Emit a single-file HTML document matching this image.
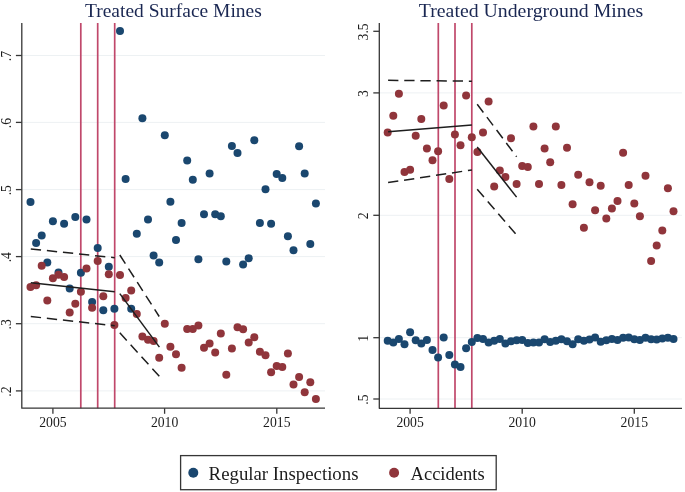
<!DOCTYPE html>
<html><head><meta charset="utf-8"><title>Treated Mines</title>
<style>
html,body{margin:0;padding:0;background:#fff;}
body{width:685px;height:492px;overflow:hidden;}
svg{display:block;}
text{font-family:"Liberation Serif","Times New Roman",serif;}
.tk{font-size:13.7px;fill:#1c1c1c;}
.ti{font-size:18.2px;fill:#1a2752;}
.lg{font-size:18.4px;fill:#1c1c1c;}
</style></head>
<body>
<svg width="685" height="492" viewBox="0 0 685 492">
<rect width="685" height="492" fill="#fff"/>
<line x1="21.8" y1="55.5" x2="325.0" y2="55.5" stroke="#edf1f3" stroke-width="1"/>
<line x1="21.8" y1="122.4" x2="325.0" y2="122.4" stroke="#edf1f3" stroke-width="1"/>
<line x1="21.8" y1="189.6" x2="325.0" y2="189.6" stroke="#edf1f3" stroke-width="1"/>
<line x1="21.8" y1="256.6" x2="325.0" y2="256.6" stroke="#edf1f3" stroke-width="1"/>
<line x1="21.8" y1="323.7" x2="325.0" y2="323.7" stroke="#edf1f3" stroke-width="1"/>
<line x1="21.8" y1="390.9" x2="325.0" y2="390.9" stroke="#edf1f3" stroke-width="1"/>
<line x1="80.8" y1="23.0" x2="80.8" y2="408.2" stroke="#c0486b" stroke-width="1.7"/>
<line x1="97.7" y1="23.0" x2="97.7" y2="408.2" stroke="#c0486b" stroke-width="1.7"/>
<line x1="114.7" y1="23.0" x2="114.7" y2="408.2" stroke="#c0486b" stroke-width="1.7"/>
<circle cx="30.5" cy="202.0" r="4.0" fill="#1a476f"/>
<circle cx="36.1" cy="243.0" r="4.0" fill="#1a476f"/>
<circle cx="41.7" cy="235.5" r="4.0" fill="#1a476f"/>
<circle cx="47.3" cy="262.5" r="4.0" fill="#1a476f"/>
<circle cx="52.9" cy="221.2" r="4.0" fill="#1a476f"/>
<circle cx="58.5" cy="272.6" r="4.0" fill="#1a476f"/>
<circle cx="64.1" cy="223.8" r="4.0" fill="#1a476f"/>
<circle cx="69.7" cy="288.6" r="4.0" fill="#1a476f"/>
<circle cx="75.3" cy="217.1" r="4.0" fill="#1a476f"/>
<circle cx="80.9" cy="272.8" r="4.0" fill="#1a476f"/>
<circle cx="86.5" cy="219.6" r="4.0" fill="#1a476f"/>
<circle cx="92.1" cy="302.0" r="4.0" fill="#1a476f"/>
<circle cx="97.7" cy="248.1" r="4.0" fill="#1a476f"/>
<circle cx="103.3" cy="310.2" r="4.0" fill="#1a476f"/>
<circle cx="108.8" cy="266.8" r="4.0" fill="#1a476f"/>
<circle cx="114.4" cy="308.8" r="4.0" fill="#1a476f"/>
<circle cx="120.0" cy="31.1" r="4.0" fill="#1a476f"/>
<circle cx="125.6" cy="179.0" r="4.0" fill="#1a476f"/>
<circle cx="131.2" cy="308.8" r="4.0" fill="#1a476f"/>
<circle cx="136.8" cy="233.8" r="4.0" fill="#1a476f"/>
<circle cx="142.4" cy="118.3" r="4.0" fill="#1a476f"/>
<circle cx="148.0" cy="219.5" r="4.0" fill="#1a476f"/>
<circle cx="153.6" cy="255.6" r="4.0" fill="#1a476f"/>
<circle cx="159.2" cy="262.5" r="4.0" fill="#1a476f"/>
<circle cx="164.8" cy="135.2" r="4.0" fill="#1a476f"/>
<circle cx="170.4" cy="201.7" r="4.0" fill="#1a476f"/>
<circle cx="176.0" cy="240.0" r="4.0" fill="#1a476f"/>
<circle cx="181.6" cy="222.9" r="4.0" fill="#1a476f"/>
<circle cx="187.2" cy="160.6" r="4.0" fill="#1a476f"/>
<circle cx="192.8" cy="179.8" r="4.0" fill="#1a476f"/>
<circle cx="198.4" cy="259.2" r="4.0" fill="#1a476f"/>
<circle cx="204.0" cy="214.3" r="4.0" fill="#1a476f"/>
<circle cx="209.6" cy="173.5" r="4.0" fill="#1a476f"/>
<circle cx="215.2" cy="214.3" r="4.0" fill="#1a476f"/>
<circle cx="220.8" cy="216.2" r="4.0" fill="#1a476f"/>
<circle cx="226.3" cy="261.6" r="4.0" fill="#1a476f"/>
<circle cx="231.9" cy="146.1" r="4.0" fill="#1a476f"/>
<circle cx="237.5" cy="152.9" r="4.0" fill="#1a476f"/>
<circle cx="243.1" cy="264.4" r="4.0" fill="#1a476f"/>
<circle cx="248.7" cy="258.2" r="4.0" fill="#1a476f"/>
<circle cx="254.3" cy="140.2" r="4.0" fill="#1a476f"/>
<circle cx="259.9" cy="222.9" r="4.0" fill="#1a476f"/>
<circle cx="265.5" cy="189.2" r="4.0" fill="#1a476f"/>
<circle cx="271.1" cy="223.7" r="4.0" fill="#1a476f"/>
<circle cx="276.7" cy="173.9" r="4.0" fill="#1a476f"/>
<circle cx="282.3" cy="178.1" r="4.0" fill="#1a476f"/>
<circle cx="287.9" cy="236.2" r="4.0" fill="#1a476f"/>
<circle cx="293.5" cy="250.2" r="4.0" fill="#1a476f"/>
<circle cx="299.1" cy="146.3" r="4.0" fill="#1a476f"/>
<circle cx="304.7" cy="173.5" r="4.0" fill="#1a476f"/>
<circle cx="310.3" cy="244.0" r="4.0" fill="#1a476f"/>
<circle cx="315.9" cy="203.5" r="4.0" fill="#1a476f"/>
<circle cx="30.5" cy="287.0" r="4.0" fill="#90353b"/>
<circle cx="36.1" cy="285.3" r="4.0" fill="#90353b"/>
<circle cx="41.7" cy="265.8" r="4.0" fill="#90353b"/>
<circle cx="47.3" cy="300.6" r="4.0" fill="#90353b"/>
<circle cx="52.9" cy="278.3" r="4.0" fill="#90353b"/>
<circle cx="58.5" cy="274.8" r="4.0" fill="#90353b"/>
<circle cx="64.1" cy="276.9" r="4.0" fill="#90353b"/>
<circle cx="69.7" cy="312.4" r="4.0" fill="#90353b"/>
<circle cx="75.3" cy="303.7" r="4.0" fill="#90353b"/>
<circle cx="80.9" cy="291.8" r="4.0" fill="#90353b"/>
<circle cx="86.5" cy="268.4" r="4.0" fill="#90353b"/>
<circle cx="92.1" cy="307.8" r="4.0" fill="#90353b"/>
<circle cx="97.7" cy="260.9" r="4.0" fill="#90353b"/>
<circle cx="103.3" cy="296.2" r="4.0" fill="#90353b"/>
<circle cx="108.8" cy="274.3" r="4.0" fill="#90353b"/>
<circle cx="114.4" cy="325.1" r="4.0" fill="#90353b"/>
<circle cx="120.0" cy="275.0" r="4.0" fill="#90353b"/>
<circle cx="125.6" cy="298.0" r="4.0" fill="#90353b"/>
<circle cx="131.2" cy="290.4" r="4.0" fill="#90353b"/>
<circle cx="136.8" cy="314.0" r="4.0" fill="#90353b"/>
<circle cx="142.4" cy="336.5" r="4.0" fill="#90353b"/>
<circle cx="148.0" cy="339.8" r="4.0" fill="#90353b"/>
<circle cx="153.6" cy="340.9" r="4.0" fill="#90353b"/>
<circle cx="159.2" cy="357.7" r="4.0" fill="#90353b"/>
<circle cx="164.8" cy="323.8" r="4.0" fill="#90353b"/>
<circle cx="170.4" cy="346.8" r="4.0" fill="#90353b"/>
<circle cx="176.0" cy="354.3" r="4.0" fill="#90353b"/>
<circle cx="181.6" cy="367.8" r="4.0" fill="#90353b"/>
<circle cx="187.2" cy="329.0" r="4.0" fill="#90353b"/>
<circle cx="192.8" cy="329.0" r="4.0" fill="#90353b"/>
<circle cx="198.4" cy="325.6" r="4.0" fill="#90353b"/>
<circle cx="204.0" cy="347.8" r="4.0" fill="#90353b"/>
<circle cx="209.6" cy="343.4" r="4.0" fill="#90353b"/>
<circle cx="215.2" cy="352.6" r="4.0" fill="#90353b"/>
<circle cx="220.8" cy="333.4" r="4.0" fill="#90353b"/>
<circle cx="226.3" cy="374.8" r="4.0" fill="#90353b"/>
<circle cx="231.9" cy="348.6" r="4.0" fill="#90353b"/>
<circle cx="237.5" cy="327.2" r="4.0" fill="#90353b"/>
<circle cx="243.1" cy="329.2" r="4.0" fill="#90353b"/>
<circle cx="248.7" cy="342.5" r="4.0" fill="#90353b"/>
<circle cx="254.3" cy="337.3" r="4.0" fill="#90353b"/>
<circle cx="259.9" cy="351.8" r="4.0" fill="#90353b"/>
<circle cx="265.5" cy="355.2" r="4.0" fill="#90353b"/>
<circle cx="271.1" cy="372.2" r="4.0" fill="#90353b"/>
<circle cx="276.7" cy="366.1" r="4.0" fill="#90353b"/>
<circle cx="282.3" cy="367.1" r="4.0" fill="#90353b"/>
<circle cx="287.9" cy="353.5" r="4.0" fill="#90353b"/>
<circle cx="293.5" cy="384.6" r="4.0" fill="#90353b"/>
<circle cx="299.1" cy="377.0" r="4.0" fill="#90353b"/>
<circle cx="304.7" cy="392.3" r="4.0" fill="#90353b"/>
<circle cx="310.3" cy="382.2" r="4.0" fill="#90353b"/>
<circle cx="315.9" cy="399.1" r="4.0" fill="#90353b"/>
<line x1="30.8" y1="248.9" x2="114.7" y2="257.7" stroke="#1e1e1e" stroke-width="1.5" stroke-dasharray="10.3 5.85"/>
<line x1="30.8" y1="282.8" x2="114.7" y2="291.8" stroke="#1e1e1e" stroke-width="1.5"/>
<line x1="30.8" y1="316.5" x2="114.7" y2="325.7" stroke="#1e1e1e" stroke-width="1.5" stroke-dasharray="10.3 5.85"/>
<line x1="119.8" y1="255.0" x2="159.2" y2="316.5" stroke="#1e1e1e" stroke-width="1.5" stroke-dasharray="10.3 5.85"/>
<line x1="119.8" y1="293.6" x2="159.4" y2="347.1" stroke="#1e1e1e" stroke-width="1.5"/>
<line x1="119.8" y1="332.8" x2="159.4" y2="376.4" stroke="#1e1e1e" stroke-width="1.5" stroke-dasharray="10.3 5.85"/>
<path d="M21.8 23.0 V408.2 H325.0" fill="none" stroke="#363636" stroke-width="1.3" stroke-linejoin="round"/>
<line x1="15.9" y1="55.5" x2="21.8" y2="55.5" stroke="#363636" stroke-width="1.3"/>
<text transform="translate(10.8 56.1) rotate(-90)" text-anchor="middle" class="tk">.7</text>
<line x1="15.9" y1="122.4" x2="21.8" y2="122.4" stroke="#363636" stroke-width="1.3"/>
<text transform="translate(10.8 123.0) rotate(-90)" text-anchor="middle" class="tk">.6</text>
<line x1="15.9" y1="189.6" x2="21.8" y2="189.6" stroke="#363636" stroke-width="1.3"/>
<text transform="translate(10.8 190.2) rotate(-90)" text-anchor="middle" class="tk">.5</text>
<line x1="15.9" y1="256.6" x2="21.8" y2="256.6" stroke="#363636" stroke-width="1.3"/>
<text transform="translate(10.8 257.2) rotate(-90)" text-anchor="middle" class="tk">.4</text>
<line x1="15.9" y1="323.7" x2="21.8" y2="323.7" stroke="#363636" stroke-width="1.3"/>
<text transform="translate(10.8 324.3) rotate(-90)" text-anchor="middle" class="tk">.3</text>
<line x1="15.9" y1="390.9" x2="21.8" y2="390.9" stroke="#363636" stroke-width="1.3"/>
<text transform="translate(10.8 391.5) rotate(-90)" text-anchor="middle" class="tk">.2</text>
<line x1="52.9" y1="408.2" x2="52.9" y2="413.8" stroke="#363636" stroke-width="1.3"/>
<text x="52.9" y="427" text-anchor="middle" class="tk">2005</text>
<line x1="164.6" y1="408.2" x2="164.6" y2="413.8" stroke="#363636" stroke-width="1.3"/>
<text x="164.6" y="427" text-anchor="middle" class="tk">2010</text>
<line x1="276.8" y1="408.2" x2="276.8" y2="413.8" stroke="#363636" stroke-width="1.3"/>
<text x="276.8" y="427" text-anchor="middle" class="tk">2015</text>
<text x="173.4" y="16.8" text-anchor="middle" class="ti" textLength="176.8" lengthAdjust="spacingAndGlyphs">Treated Surface Mines</text>
<line x1="379.3" y1="92.9" x2="682.0" y2="92.9" stroke="#edf1f3" stroke-width="1"/>
<line x1="379.3" y1="215.3" x2="682.0" y2="215.3" stroke="#edf1f3" stroke-width="1"/>
<line x1="379.3" y1="337.7" x2="682.0" y2="337.7" stroke="#edf1f3" stroke-width="1"/>
<line x1="379.3" y1="399.0" x2="682.0" y2="399.0" stroke="#edf1f3" stroke-width="1"/>
<line x1="438.3" y1="23.0" x2="438.3" y2="408.2" stroke="#c0486b" stroke-width="1.7"/>
<line x1="455.0" y1="23.0" x2="455.0" y2="408.2" stroke="#c0486b" stroke-width="1.7"/>
<line x1="471.8" y1="23.0" x2="471.8" y2="408.2" stroke="#c0486b" stroke-width="1.7"/>
<circle cx="387.7" cy="340.7" r="4.0" fill="#1a476f"/>
<circle cx="393.3" cy="342.6" r="4.0" fill="#1a476f"/>
<circle cx="398.9" cy="339.1" r="4.0" fill="#1a476f"/>
<circle cx="404.5" cy="344.2" r="4.0" fill="#1a476f"/>
<circle cx="410.1" cy="332.2" r="4.0" fill="#1a476f"/>
<circle cx="415.7" cy="340.2" r="4.0" fill="#1a476f"/>
<circle cx="421.3" cy="343.6" r="4.0" fill="#1a476f"/>
<circle cx="426.9" cy="339.9" r="4.0" fill="#1a476f"/>
<circle cx="432.5" cy="350.0" r="4.0" fill="#1a476f"/>
<circle cx="438.1" cy="357.6" r="4.0" fill="#1a476f"/>
<circle cx="443.7" cy="337.5" r="4.0" fill="#1a476f"/>
<circle cx="449.3" cy="355.1" r="4.0" fill="#1a476f"/>
<circle cx="454.9" cy="364.5" r="4.0" fill="#1a476f"/>
<circle cx="460.5" cy="366.9" r="4.0" fill="#1a476f"/>
<circle cx="466.1" cy="348.2" r="4.0" fill="#1a476f"/>
<circle cx="471.8" cy="342.0" r="4.0" fill="#1a476f"/>
<circle cx="477.4" cy="338.1" r="4.0" fill="#1a476f"/>
<circle cx="483.0" cy="339.0" r="4.0" fill="#1a476f"/>
<circle cx="488.6" cy="342.5" r="4.0" fill="#1a476f"/>
<circle cx="494.2" cy="340.8" r="4.0" fill="#1a476f"/>
<circle cx="499.8" cy="339.0" r="4.0" fill="#1a476f"/>
<circle cx="505.4" cy="343.4" r="4.0" fill="#1a476f"/>
<circle cx="511.0" cy="341.2" r="4.0" fill="#1a476f"/>
<circle cx="516.6" cy="340.3" r="4.0" fill="#1a476f"/>
<circle cx="522.2" cy="339.9" r="4.0" fill="#1a476f"/>
<circle cx="527.8" cy="343.0" r="4.0" fill="#1a476f"/>
<circle cx="533.4" cy="342.5" r="4.0" fill="#1a476f"/>
<circle cx="539.0" cy="342.5" r="4.0" fill="#1a476f"/>
<circle cx="544.6" cy="339.3" r="4.0" fill="#1a476f"/>
<circle cx="550.2" cy="342.1" r="4.0" fill="#1a476f"/>
<circle cx="555.8" cy="340.8" r="4.0" fill="#1a476f"/>
<circle cx="561.4" cy="339.3" r="4.0" fill="#1a476f"/>
<circle cx="567.0" cy="341.2" r="4.0" fill="#1a476f"/>
<circle cx="572.6" cy="344.3" r="4.0" fill="#1a476f"/>
<circle cx="578.2" cy="339.3" r="4.0" fill="#1a476f"/>
<circle cx="583.9" cy="340.8" r="4.0" fill="#1a476f"/>
<circle cx="589.5" cy="339.5" r="4.0" fill="#1a476f"/>
<circle cx="595.1" cy="337.5" r="4.0" fill="#1a476f"/>
<circle cx="600.7" cy="341.8" r="4.0" fill="#1a476f"/>
<circle cx="606.3" cy="340.3" r="4.0" fill="#1a476f"/>
<circle cx="611.9" cy="339.0" r="4.0" fill="#1a476f"/>
<circle cx="617.5" cy="339.9" r="4.0" fill="#1a476f"/>
<circle cx="623.1" cy="337.8" r="4.0" fill="#1a476f"/>
<circle cx="628.7" cy="337.5" r="4.0" fill="#1a476f"/>
<circle cx="634.3" cy="339.2" r="4.0" fill="#1a476f"/>
<circle cx="639.9" cy="340.0" r="4.0" fill="#1a476f"/>
<circle cx="645.5" cy="337.7" r="4.0" fill="#1a476f"/>
<circle cx="651.1" cy="339.3" r="4.0" fill="#1a476f"/>
<circle cx="656.7" cy="339.4" r="4.0" fill="#1a476f"/>
<circle cx="662.3" cy="338.4" r="4.0" fill="#1a476f"/>
<circle cx="667.9" cy="337.8" r="4.0" fill="#1a476f"/>
<circle cx="673.5" cy="339.1" r="4.0" fill="#1a476f"/>
<circle cx="387.7" cy="132.6" r="4.0" fill="#90353b"/>
<circle cx="393.3" cy="115.8" r="4.0" fill="#90353b"/>
<circle cx="398.9" cy="93.8" r="4.0" fill="#90353b"/>
<circle cx="404.5" cy="172.1" r="4.0" fill="#90353b"/>
<circle cx="410.1" cy="169.8" r="4.0" fill="#90353b"/>
<circle cx="415.7" cy="135.8" r="4.0" fill="#90353b"/>
<circle cx="421.3" cy="118.9" r="4.0" fill="#90353b"/>
<circle cx="426.9" cy="148.6" r="4.0" fill="#90353b"/>
<circle cx="432.5" cy="160.2" r="4.0" fill="#90353b"/>
<circle cx="438.1" cy="151.2" r="4.0" fill="#90353b"/>
<circle cx="443.7" cy="105.6" r="4.0" fill="#90353b"/>
<circle cx="449.3" cy="178.9" r="4.0" fill="#90353b"/>
<circle cx="454.9" cy="134.4" r="4.0" fill="#90353b"/>
<circle cx="460.5" cy="145.2" r="4.0" fill="#90353b"/>
<circle cx="466.1" cy="95.5" r="4.0" fill="#90353b"/>
<circle cx="471.8" cy="137.3" r="4.0" fill="#90353b"/>
<circle cx="477.4" cy="152.0" r="4.0" fill="#90353b"/>
<circle cx="483.0" cy="132.5" r="4.0" fill="#90353b"/>
<circle cx="488.6" cy="101.4" r="4.0" fill="#90353b"/>
<circle cx="494.2" cy="186.4" r="4.0" fill="#90353b"/>
<circle cx="499.8" cy="170.4" r="4.0" fill="#90353b"/>
<circle cx="505.4" cy="177.1" r="4.0" fill="#90353b"/>
<circle cx="511.0" cy="138.3" r="4.0" fill="#90353b"/>
<circle cx="516.6" cy="184.1" r="4.0" fill="#90353b"/>
<circle cx="522.2" cy="166.1" r="4.0" fill="#90353b"/>
<circle cx="527.8" cy="167.0" r="4.0" fill="#90353b"/>
<circle cx="533.4" cy="126.6" r="4.0" fill="#90353b"/>
<circle cx="539.0" cy="184.1" r="4.0" fill="#90353b"/>
<circle cx="544.6" cy="148.6" r="4.0" fill="#90353b"/>
<circle cx="550.2" cy="162.3" r="4.0" fill="#90353b"/>
<circle cx="555.8" cy="126.6" r="4.0" fill="#90353b"/>
<circle cx="561.4" cy="184.9" r="4.0" fill="#90353b"/>
<circle cx="567.0" cy="147.8" r="4.0" fill="#90353b"/>
<circle cx="572.6" cy="204.2" r="4.0" fill="#90353b"/>
<circle cx="578.2" cy="174.8" r="4.0" fill="#90353b"/>
<circle cx="583.9" cy="227.8" r="4.0" fill="#90353b"/>
<circle cx="589.5" cy="182.3" r="4.0" fill="#90353b"/>
<circle cx="595.1" cy="210.2" r="4.0" fill="#90353b"/>
<circle cx="600.7" cy="185.8" r="4.0" fill="#90353b"/>
<circle cx="606.3" cy="218.5" r="4.0" fill="#90353b"/>
<circle cx="611.9" cy="208.6" r="4.0" fill="#90353b"/>
<circle cx="617.5" cy="200.9" r="4.0" fill="#90353b"/>
<circle cx="623.1" cy="152.8" r="4.0" fill="#90353b"/>
<circle cx="628.7" cy="185.0" r="4.0" fill="#90353b"/>
<circle cx="634.3" cy="203.4" r="4.0" fill="#90353b"/>
<circle cx="639.9" cy="216.2" r="4.0" fill="#90353b"/>
<circle cx="645.5" cy="175.7" r="4.0" fill="#90353b"/>
<circle cx="651.1" cy="260.9" r="4.0" fill="#90353b"/>
<circle cx="656.7" cy="245.6" r="4.0" fill="#90353b"/>
<circle cx="662.3" cy="230.5" r="4.0" fill="#90353b"/>
<circle cx="667.9" cy="188.2" r="4.0" fill="#90353b"/>
<circle cx="673.5" cy="211.3" r="4.0" fill="#90353b"/>
<line x1="388.1" y1="80.3" x2="471.9" y2="81.2" stroke="#1e1e1e" stroke-width="1.5" stroke-dasharray="10.3 5.85"/>
<line x1="388.1" y1="131.7" x2="471.9" y2="125.1" stroke="#1e1e1e" stroke-width="1.5"/>
<line x1="388.1" y1="182.6" x2="471.9" y2="169.9" stroke="#1e1e1e" stroke-width="1.5" stroke-dasharray="10.3 5.85"/>
<line x1="477.2" y1="104.2" x2="516.6" y2="156.7" stroke="#1e1e1e" stroke-width="1.5" stroke-dasharray="10.3 5.85"/>
<line x1="477.2" y1="147.0" x2="516.6" y2="197.1" stroke="#1e1e1e" stroke-width="1.5"/>
<line x1="477.2" y1="189.3" x2="516.6" y2="235.0" stroke="#1e1e1e" stroke-width="1.5" stroke-dasharray="10.3 5.85"/>
<path d="M379.3 23.0 V408.3 H682.0" fill="none" stroke="#363636" stroke-width="1.3" stroke-linejoin="round"/>
<line x1="373.3" y1="31.3" x2="379.3" y2="31.3" stroke="#363636" stroke-width="1.3"/>
<text transform="translate(368 31.9) rotate(-90)" text-anchor="middle" class="tk">3.5</text>
<line x1="373.3" y1="92.9" x2="379.3" y2="92.9" stroke="#363636" stroke-width="1.3"/>
<text transform="translate(368 93.5) rotate(-90)" text-anchor="middle" class="tk">3</text>
<line x1="373.3" y1="215.3" x2="379.3" y2="215.3" stroke="#363636" stroke-width="1.3"/>
<text transform="translate(368 215.9) rotate(-90)" text-anchor="middle" class="tk">2</text>
<line x1="373.3" y1="337.7" x2="379.3" y2="337.7" stroke="#363636" stroke-width="1.3"/>
<text transform="translate(368 338.3) rotate(-90)" text-anchor="middle" class="tk">1</text>
<line x1="373.3" y1="399.0" x2="379.3" y2="399.0" stroke="#363636" stroke-width="1.3"/>
<text transform="translate(368 399.6) rotate(-90)" text-anchor="middle" class="tk">.5</text>
<line x1="410.1" y1="408.3" x2="410.1" y2="413.8" stroke="#363636" stroke-width="1.3"/>
<text x="410.1" y="427" text-anchor="middle" class="tk">2005</text>
<line x1="522.2" y1="408.3" x2="522.2" y2="413.8" stroke="#363636" stroke-width="1.3"/>
<text x="522.2" y="427" text-anchor="middle" class="tk">2010</text>
<line x1="634.3" y1="408.3" x2="634.3" y2="413.8" stroke="#363636" stroke-width="1.3"/>
<text x="634.3" y="427" text-anchor="middle" class="tk">2015</text>
<text x="531.0" y="16.8" text-anchor="middle" class="ti" textLength="224.3" lengthAdjust="spacingAndGlyphs">Treated Underground Mines</text>
<rect x="180.6" y="455.6" width="315.6" height="34.1" fill="#fff" stroke="#363636" stroke-width="1.3"/>
<circle cx="193.3" cy="472.8" r="5" fill="#1a476f"/>
<circle cx="394.1" cy="472.8" r="5" fill="#90353b"/>
<text x="208.6" y="479.8" class="lg" textLength="149.9" lengthAdjust="spacingAndGlyphs">Regular Inspections</text>
<text x="410.5" y="479.8" class="lg" textLength="74.2" lengthAdjust="spacingAndGlyphs">Accidents</text>
</svg>
</body></html>
